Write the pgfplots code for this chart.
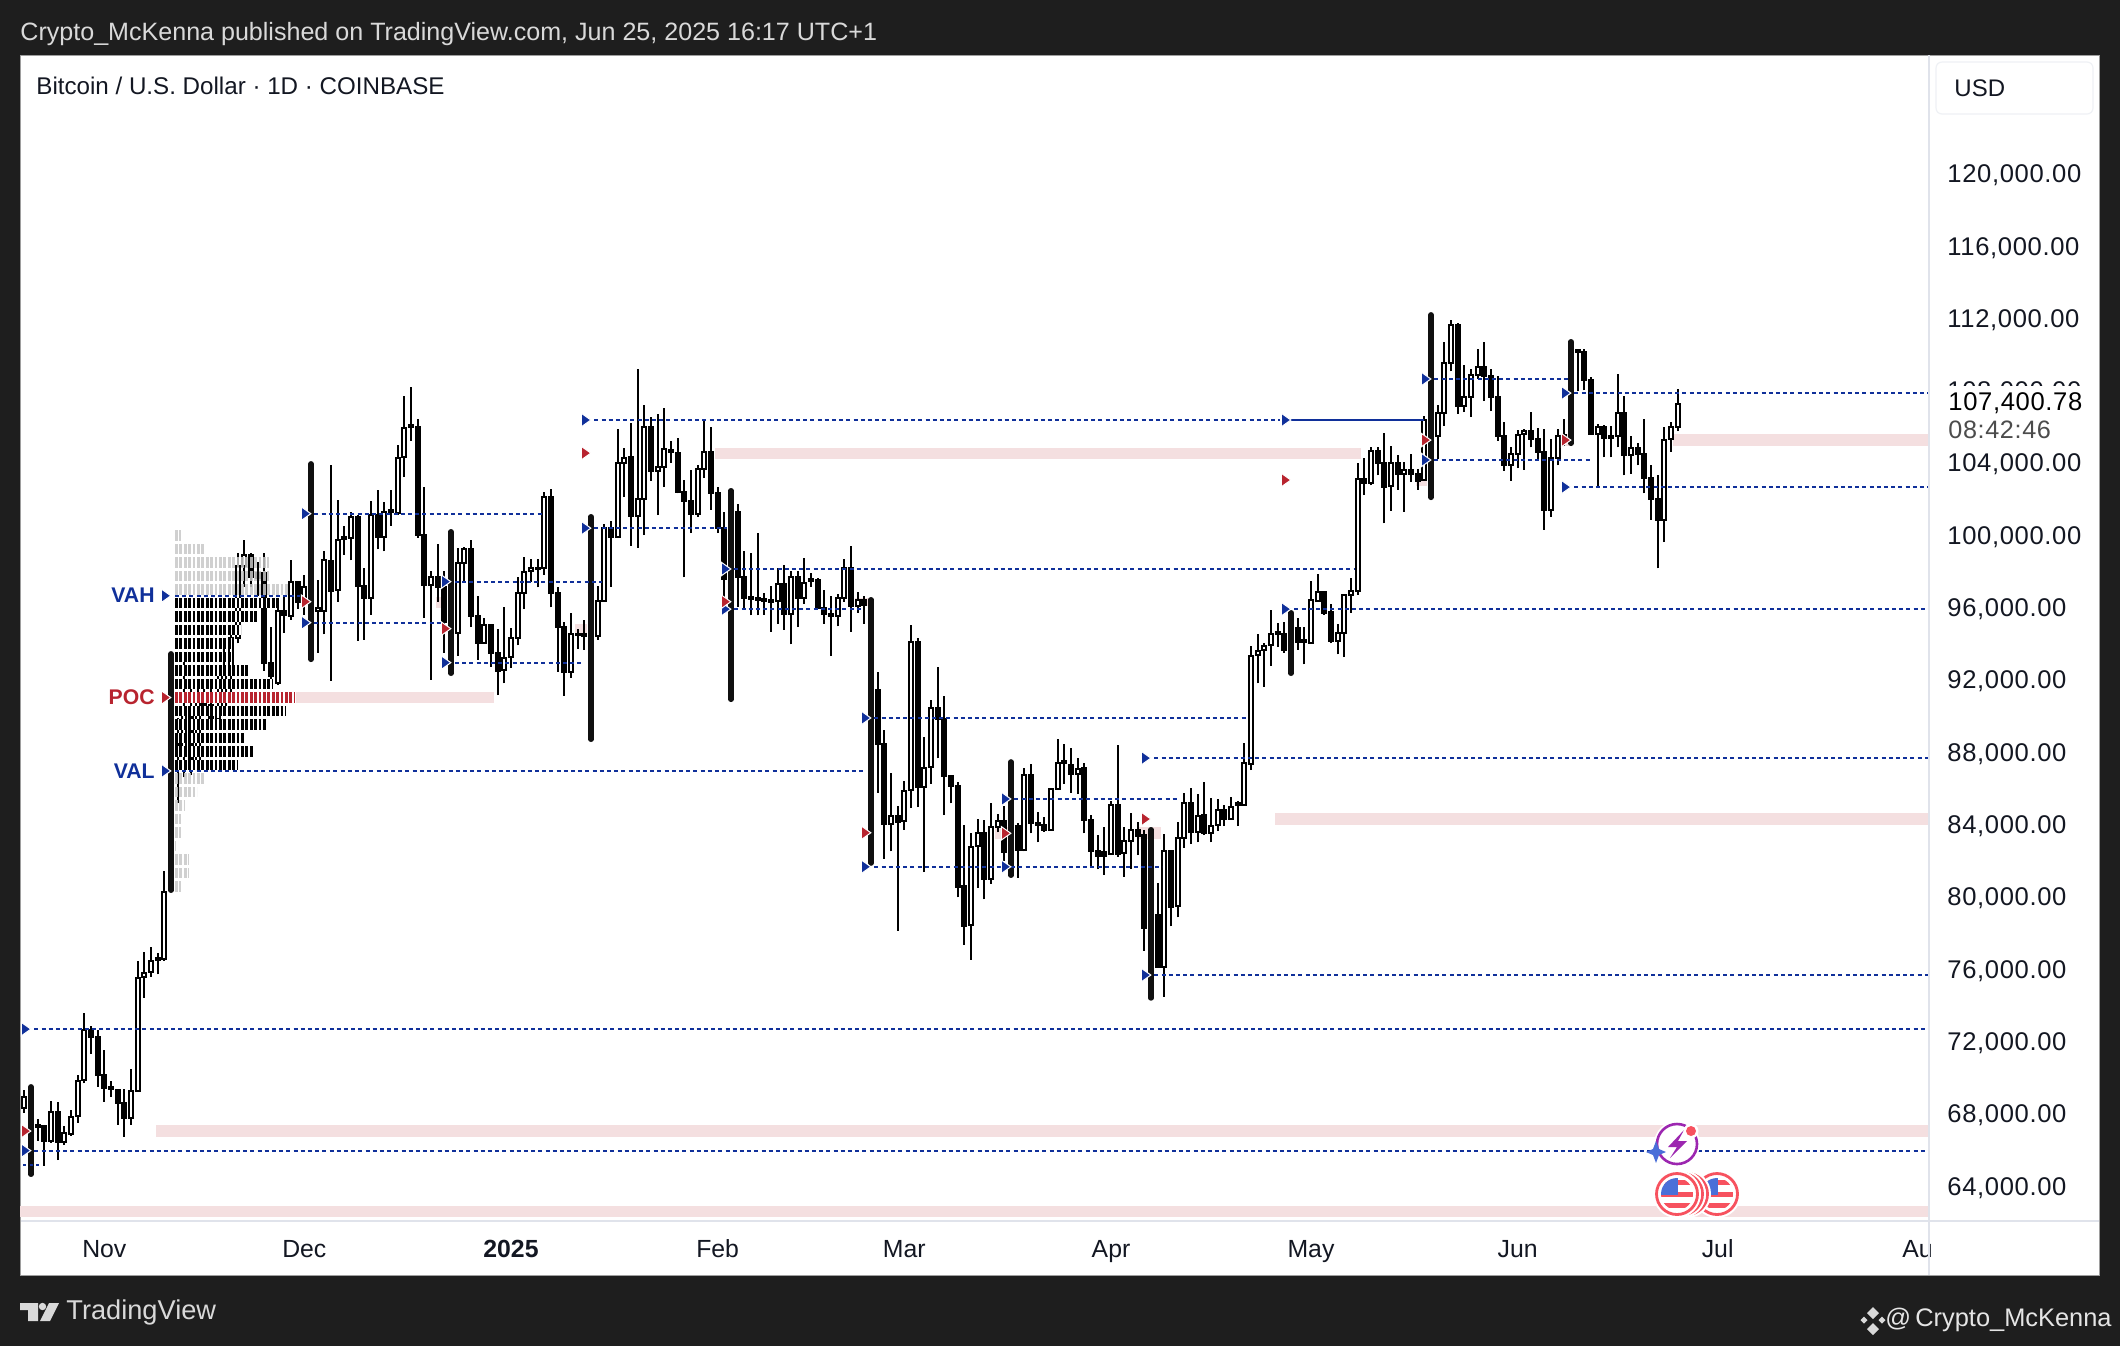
\documentclass[border=0pt]{standalone}
\usepackage{fontspec}
\setmainfont{Liberation Sans}
\usepackage{pgfplots}
\pgfplotsset{compat=1.18}
\definecolor{frameD}{HTML}{1E1E1E}
\definecolor{ink}{HTML}{131722}
\definecolor{lvl}{HTML}{10309A}
\definecolor{trR}{HTML}{B8242F}
\definecolor{band}{HTML}{F4DFE0}
\definecolor{sep}{HTML}{E0E3EB}
\definecolor{thickc}{HTML}{101010}
\definecolor{greyrow}{HTML}{C8C8C8}
\definecolor{coin}{HTML}{F7525F}
\definecolor{flagb}{HTML}{4A6FD8}
\definecolor{ringc}{HTML}{9C27B0}
\pgfdeclareplotmark{rtri}{%
  \pgfpathmoveto{\pgfpoint{-2.2pt}{3.4pt}}%
  \pgfpathlineto{\pgfpoint{2.6pt}{0pt}}%
  \pgfpathlineto{\pgfpoint{-2.2pt}{-3.4pt}}%
  \pgfpathclose\pgfusepathqfillstroke}
\newcommand\U[5]{\pgfmathsetmacro\xa{#1-0.3}\pgfmathsetmacro\xb{#1+0.3}%
  \addplot[black,line width=1pt,forget plot] coordinates {(#1,#4)(#1,#3)};%
  \addplot[draw=black,fill=white,line width=1pt,line join=miter,forget plot] coordinates {(\xa,#2)(\xb,#2)(\xb,#5)(\xa,#5)} -- cycle;}
\newcommand\D[5]{\pgfmathsetmacro\xa{#1-0.3}\pgfmathsetmacro\xb{#1+0.3}%
  \addplot[black,line width=1pt,forget plot] coordinates {(#1,#4)(#1,#3)};%
  \addplot[draw=black,fill=black,line width=1pt,line join=miter,forget plot] coordinates {(\xa,#2)(\xb,#2)(\xb,#5)(\xa,#5)} -- cycle;}
\newcommand\T[3]{\addplot[thickc,line width=2.7pt,line cap=round,forget plot] coordinates {(#1,#2)(#1,#3)};}
\newcommand\band[4]{\addplot[draw=none,fill=band,forget plot] coordinates {(#1,#3)(#2,#3)(#2,#4)(#1,#4)} -- cycle;}
\newcommand\dl[3]{\addplot[lvl,line width=0.9pt,dash pattern=on 2pt off 1.6pt,forget plot] coordinates {(#1,#3)(#2,#3)};}
\newcommand\rowK[3][black]{\addplot[white,line width=5.25pt,forget plot] coordinates {(-50.4,#2)(#3,#2)};%
  \addplot[#1,line width=5.25pt,dash pattern=on 1.4pt off 0.8pt,forget plot] coordinates {(-50.4,#2)(#3,#2)};}
\newcommand\rowG[2]{\addplot[greyrow,opacity=0.85,line width=5.25pt,dash pattern=on 1.4pt off 0.8pt,forget plot] coordinates {(-50.4,#1)(#2,#1)};}
\newcommand\coin[2]{\fill[white] (#1,#2) circle (24);\draw[coin,fill=white,line width=1.4pt] (#1,#2) circle (20.5);}
\newcommand\flag[2]{\begin{scope}\clip (#1,#2) circle (16);
  \fill[coin] (#1-17,#2-14) rectangle (#1+17,#2-9);
  \fill[coin] (#1-17,#2-2) rectangle (#1+17,#2+3);
  \fill[coin] (#1-17,#2+9) rectangle (#1+17,#2+14);
  \fill[flagb] (#1-17,#2-17) rectangle (#1+1,#2+1);\end{scope}}
\begin{document}
\begin{tikzpicture}[x=0.5pt,y=-0.5pt]
\fill[frameD] (0,0) rectangle (2120,1346);
\fill[white,draw=black!38,line width=0.5pt] (20,55) rectangle (2099,1275);
\begin{axis}[at={(10pt,-610.5pt)},anchor=south west,scale only axis,width=954.5pt,height=583pt,
  xmin=-73.65,xmax=212.7,ymin=62055,ymax=126550,
  axis line style={draw=none},major tick length=0pt,
  ytick={64000,68000,72000,76000,80000,84000,88000,92000,96000,100000,104000,108000,112000,116000,120000},
  ytick pos=right,scaled y ticks=false,
  /pgf/number format/.cd,fixed,fixed zerofill,precision=2,1000 sep={,},assume math mode=true,/pgfplots/.cd,
  yticklabel style={anchor=west,xshift=9pt,yshift=-1pt,inner sep=0pt,text=ink,font=\fontsize{12.8}{14}\selectfont\addfontfeature{LetterSpace=2.5}},
  xtick={-61,-31,0,31,59,90,120,151,181,212},
  xticklabels={Nov,Dec,\textbf{2025},Feb,Mar,Apr,May,Jun,Jul,Aug},
  xtick pos=bottom,
  xticklabel style={anchor=base,yshift=-18.2pt,inner sep=0pt,text=ink,font=\fontsize{12.4}{14}\selectfont},
]
% zones
\band{-53.25}{212.7}{67370}{66700}
\band{-73.65}{212.7}{62890}{62280}
\band{114.6}{212.7}{84620}{83960}
\band{-32.25}{-2.55}{91310}{90700}
\band{30.6}{127.5}{104810}{104200}
\band{174.3}{212.7}{105580}{104920}
\band{94.05}{97.5}{83850}{83180}
\band{72.6}{74.85}{83850}{83180}
\band{51.6}{53.85}{96500}{96050}
\band{9.6}{11.4}{95070}{94520}
\band{-11.25}{-9.6}{96570}{95960}
\band{135.75}{137.4}{102980}{102700}
\band{157.3}{159.1}{105580}{104920}
% candles: day from 1 Jan 2025, open, high, low, close
\U{-73}{68300}{69300}{68050}{68900}
\D{-71}{67350}{67700}{66500}{67250}
\D{-70}{67290}{67300}{65100}{66480}
\U{-69}{66460}{68680}{66390}{68070}
\D{-68}{68070}{68620}{65430}{66440}
\U{-67}{66440}{67310}{66260}{66910}
\U{-66}{66890}{68200}{66760}{67830}
\U{-65}{67870}{70130}{67500}{69820}
\U{-64}{69860}{73540}{69670}{72600}
\D{-63}{72600}{72840}{71300}{72220}
\D{-62}{72220}{72620}{69490}{70110}
\D{-61}{70110}{71520}{68660}{69400}
\D{-60}{69480}{69780}{68930}{69380}
\D{-59}{69280}{69300}{67370}{68600}
\D{-58}{68600}{69340}{66720}{67740}
\U{-57}{67740}{70450}{67370}{69270}
\U{-56}{69270}{76420}{69210}{75520}
\U{-55}{75530}{76920}{74410}{75790}
\U{-54}{75830}{77190}{75570}{76460}
\D{-53}{76580}{76860}{75700}{76480}
\U{-52}{76570}{81400}{76440}{80280}
\D{-50}{88650}{89900}{85200}{87950}
\U{-49}{87950}{93300}{86600}{90400}
\D{-48}{90400}{91800}{86700}{87300}
\U{-47}{87300}{91900}{87100}{91100}
\D{-46}{91100}{91800}{90100}{90600}
\D{-45}{90600}{91700}{89300}{89800}
\U{-44}{89800}{92600}{89400}{90500}
\U{-43}{90500}{94000}{91500}{92300}
\U{-42}{92300}{94900}{91000}{94300}
\U{-41}{94300}{99000}{94000}{98300}
\U{-40}{98300}{99700}{97100}{98900}
\D{-39}{98900}{99000}{97100}{97650}
\D{-38}{97900}{98500}{96600}{97600}
\D{-37}{97900}{99000}{92500}{92900}
\D{-36}{92900}{94900}{91500}{92200}
\U{-35}{91800}{96500}{91700}{95800}
\D{-34}{95800}{96600}{94600}{95600}
\U{-33}{95500}{98600}{95300}{97400}
\D{-32}{97400}{97400}{95900}{96300}
\U{-31}{96400}{97800}{95600}{97100}
\U{-29}{95800}{97500}{93500}{95950}
\U{-28}{95800}{99100}{94500}{98600}
\D{-27}{98570}{103850}{91950}{96900}
\U{-26}{96950}{101950}{96300}{99750}
\U{-25}{99800}{100500}{98900}{99900}
\U{-24}{99850}{101300}{98600}{101000}
\D{-23}{101000}{101100}{94150}{97200}
\D{-22}{97200}{98200}{94200}{96500}
\U{-21}{96500}{101900}{95600}{101100}
\D{-20}{101100}{102500}{99200}{99900}
\U{-19}{99900}{101800}{99100}{101300}
\U{-18}{101300}{102500}{100500}{101400}
\U{-17}{101200}{105000}{101100}{104270}
\U{-16}{104290}{107700}{103200}{105930}
\U{-15}{105980}{108200}{105200}{106080}
\D{-14}{106000}{106400}{99850}{100000}
\D{-13}{100000}{102650}{95400}{97250}
\U{-12}{97250}{98000}{92000}{97650}
\D{-11}{97650}{99500}{96300}{97100}
\D{-10}{97100}{98000}{93500}{95200}
\U{-8}{94600}{99300}{93300}{98450}
\U{-7}{98450}{99350}{97400}{99200}
\D{-6}{99200}{99750}{94900}{95500}
\D{-5}{95500}{96600}{93100}{94000}
\U{-4}{94000}{95400}{94000}{95000}
\D{-3}{95000}{95100}{92700}{93450}
\D{-2}{93450}{94800}{91150}{92500}
\U{-1}{92530}{96000}{91800}{93200}
\U{0}{93260}{94830}{92660}{94280}
\U{1}{94280}{97650}{93900}{96770}
\U{2}{96770}{98800}{95900}{97970}
\U{3}{98000}{98650}{97400}{98150}
\U{4}{98100}{98700}{97100}{98200}
\U{5}{98200}{102400}{97800}{102100}
\D{6}{102100}{102550}{96000}{96800}
\D{7}{96800}{97150}{92450}{94900}
\D{8}{94900}{95200}{91100}{92400}
\U{9}{92400}{95700}{92100}{94550}
\D{10}{94550}{94800}{93700}{94450}
\D{11}{94500}{95300}{93650}{94400}
\U{13}{94400}{97200}{94200}{96350}
\U{14}{96350}{100600}{96300}{100370}
\D{15}{100370}{100750}{97150}{99870}
\U{16}{99870}{105850}{99870}{103960}
\U{17}{103960}{104800}{102100}{104270}
\D{18}{104300}{106200}{99400}{101060}
\U{19}{101060}{109200}{99300}{102000}
\U{20}{102000}{107200}{100000}{106000}
\D{21}{106000}{106500}{103000}{103550}
\U{22}{103550}{106700}{101100}{103770}
\U{23}{103770}{107050}{102650}{104730}
\D{24}{104700}{105200}{104000}{104600}
\D{25}{104560}{105350}{102300}{102400}
\D{26}{102400}{103050}{97650}{101900}
\D{27}{101900}{103600}{100100}{101150}
\U{28}{101150}{103900}{101000}{103650}
\U{29}{103650}{106350}{103150}{104600}
\D{30}{104600}{105950}{101400}{102300}
\D{31}{102300}{102650}{100100}{100400}
\D{32}{100400}{101300}{96100}{97550}
\D{34}{101300}{101700}{96000}{97650}
\D{35}{97650}{99100}{95900}{96500}
\D{36}{96550}{99000}{95550}{96450}
\D{37}{96500}{100100}{95550}{96400}
\D{38}{96450}{96800}{95600}{96350}
\D{39}{96400}{97200}{94650}{96300}
\U{40}{96350}{98150}{95100}{97300}
\D{41}{97300}{98350}{94750}{95650}
\U{42}{95650}{98000}{93950}{97700}
\D{43}{97700}{98000}{94900}{96500}
\U{44}{96500}{98750}{96200}{97350}
\D{45}{97550}{97900}{97150}{97450}
\D{46}{97500}{97600}{95900}{95950}
\D{47}{95950}{96950}{95100}{95650}
\D{48}{95650}{96600}{93300}{95500}
\U{49}{95500}{96750}{94950}{96500}
\U{50}{96500}{98650}{96300}{98200}
\D{51}{98200}{99400}{94650}{96050}
\U{52}{96050}{96850}{95700}{96400}
\D{53}{96400}{96600}{95100}{96150}
\D{55}{91400}{92400}{85750}{88450}
\D{56}{88450}{89200}{82100}{84000}
\U{57}{84000}{86850}{82500}{84450}
\D{58}{84450}{85000}{78100}{84150}
\U{59}{84200}{86400}{83700}{85850}
\U{60}{85900}{95000}{84900}{94100}
\D{61}{94100}{94300}{84950}{86050}
\U{62}{86050}{88850}{81350}{87100}
\U{63}{87150}{90850}{86250}{90450}
\D{64}{90450}{92700}{87650}{89800}
\D{65}{89800}{91100}{84500}{86650}
\D{66}{86650}{86750}{85150}{86100}
\D{67}{86100}{86350}{79950}{80550}
\D{68}{80600}{83950}{77350}{78400}
\U{69}{78450}{83500}{76500}{82750}
\U{70}{82800}{84300}{80500}{83500}
\D{71}{83500}{84250}{79850}{80950}
\U{72}{80950}{85200}{80700}{83850}
\U{73}{83850}{84550}{83550}{84200}
\D{74}{84200}{85000}{81950}{82450}
\D{76}{83900}{84050}{81050}{82550}
\U{77}{82600}{87100}{82500}{86750}
\D{78}{86750}{87350}{83500}{84050}
\D{79}{84050}{84700}{83000}{83950}
\D{80}{83950}{84400}{83600}{83700}
\U{81}{83700}{85950}{83700}{85950}
\U{82}{85950}{88700}{85900}{87400}
\D{83}{87500}{88450}{86250}{87400}
\D{84}{87300}{88200}{85750}{86800}
\U{85}{86800}{87650}{85700}{87050}
\D{86}{87100}{87400}{83500}{84250}
\D{87}{84250}{84500}{81600}{82500}
\D{88}{82500}{83400}{81500}{82250}
\D{89}{82450}{83850}{81200}{82250}
\U{90}{82350}{85300}{82300}{85050}
\D{91}{85050}{88400}{82200}{82350}
\U{92}{82400}{83850}{81100}{83050}
\U{93}{83050}{84600}{81550}{83700}
\D{94}{83700}{84100}{82300}{83350}
\D{95}{83400}{83700}{77000}{78250}
\D{97}{79000}{80750}{76100}{76100}
\U{98}{76100}{83450}{74450}{82500}
\D{99}{82500}{82600}{78350}{79450}
\U{100}{79500}{84150}{78850}{83250}
\U{101}{83250}{85750}{82700}{85150}
\D{102}{85150}{86000}{82900}{83600}
\U{103}{83600}{85700}{83000}{84450}
\D{104}{84500}{86350}{83400}{83500}
\U{105}{83500}{85450}{83000}{83900}
\U{106}{83950}{85400}{83650}{84800}
\D{107}{84800}{85050}{83900}{84300}
\U{108}{84300}{85500}{84250}{84950}
\U{109}{85050}{85300}{83900}{85150}
\U{110}{85050}{88500}{85050}{87400}
\U{111}{87350}{93850}{87000}{93300}
\U{112}{93350}{94550}{91800}{93600}
\U{113}{93650}{94000}{91600}{93850}
\U{114}{93900}{95850}{92750}{94550}
\U{115}{94550}{95150}{93800}{94650}
\D{116}{94550}{95200}{93500}{93650}
\D{118}{94850}{95400}{93650}{94100}
\D{119}{94200}{94900}{92850}{94100}
\U{120}{94050}{97450}{94000}{96400}
\U{121}{96370}{97850}{96300}{96830}
\D{122}{96830}{96900}{95600}{95700}
\D{123}{95720}{96200}{94000}{94150}
\U{124}{94150}{95100}{93400}{94600}
\U{125}{94600}{96750}{93250}{96700}
\U{126}{96700}{97600}{95700}{96900}
\U{127}{96900}{104000}{96700}{103100}
\D{128}{103100}{104250}{102200}{102850}
\U{129}{102850}{104850}{102750}{104650}
\D{130}{104650}{104850}{103300}{104000}
\D{131}{104000}{105650}{100650}{102650}
\U{132}{102700}{104900}{101350}{104000}
\D{133}{104000}{104400}{102500}{103400}
\U{134}{103400}{104050}{101300}{103600}
\D{135}{103600}{104500}{102950}{103350}
\D{136}{103350}{103650}{102500}{103000}
\U{137}{103050}{106600}{103000}{106350}
\U{139}{105470}{107200}{104200}{106730}
\U{140}{106730}{110650}{106030}{109530}
\U{141}{109530}{111900}{109050}{111600}
\D{142}{111600}{111750}{106700}{107150}
\U{143}{107150}{109400}{106800}{107650}
\U{144}{107650}{109200}{106550}{108850}
\U{145}{108850}{110300}{108650}{109300}
\D{146}{109300}{110700}{107400}{108800}
\D{147}{108800}{109200}{106850}{107650}
\D{148}{107650}{108800}{105200}{105470}
\D{149}{105470}{106250}{103550}{103900}
\U{150}{103900}{104850}{103000}{104500}
\U{151}{104500}{105800}{103700}{105550}
\U{152}{105580}{105850}{103600}{105780}
\D{153}{105780}{106800}{104850}{105300}
\D{154}{105300}{105900}{104100}{104600}
\D{155}{104600}{105850}{100300}{101400}
\U{156}{101400}{105300}{101000}{104250}
\U{157}{104250}{105850}{103850}{105450}
\U{158}{105450}{106400}{104900}{105550}
\U{160}{110100}{110300}{107950}{110250}
\D{161}{110150}{110300}{108000}{108550}
\D{162}{108550}{108750}{105600}{105600}
\U{163}{105600}{106150}{102650}{105950}
\D{164}{105950}{106100}{104300}{105350}
\D{165}{105450}{106050}{104300}{105350}
\U{166}{105450}{108900}{104850}{106730}
\D{167}{106730}{107700}{103300}{104450}
\U{168}{104450}{105500}{103400}{104800}
\D{169}{104800}{105100}{103850}{104500}
\D{170}{104500}{106400}{102300}{103150}
\D{171}{103150}{103850}{100850}{102000}
\D{172}{102000}{103300}{98150}{100850}
\U{173}{100850}{106000}{99600}{105250}
\U{174}{105300}{106250}{104600}{106000}
\U{175}{106000}{108050}{105750}{107270}
% wide sessions
\T{-72}{64640}{69480}
\T{-51}{80350}{93430}
\T{-30}{93120}{103940}
\T{-9}{92350}{100180}
\T{12}{88700}{101010}
\T{33}{90910}{102450}
\T{54}{81850}{96420}
\T{75}{81180}{87450}
\T{96}{74390}{83700}
\T{117}{92350}{95700}
\T{138}{102080}{112180}
\T{159}{105070}{110690}
% volume profile
\rowG{99970}{-49.5}
\rowG{99230}{-45.9}
\rowG{98480}{-36.3}
\rowG{97730}{-36.3}
\rowG{96990}{-33.45}
\rowK{96240}{-34.95}
\rowK{95490}{-38.1}
\rowK{94750}{-40.5}
\rowK{93990}{-41.55}
\rowK{93250}{-41.7}
\rowK{92500}{-39.3}
\rowK{91760}{-35.7}
\rowK[trR]{91010}{-32.55}
\rowK{90260}{-33.75}
\rowK{89520}{-36.75}
\rowK{88770}{-39.9}
\rowK{88020}{-38.7}
\rowK{87280}{-41.1}
\rowG{86530}{-45.9}
\rowG{85780}{-47.1}
\rowG{85030}{-49.05}
\rowG{84290}{-49.5}
\rowG{83540}{-49.5}
\rowG{82790}{-50.25}
\rowG{82050}{-48.3}
\rowG{81300}{-48.3}
\rowG{80550}{-49.5}
% levels
\dl{-71.5}{212.7}{72670}
\dl{-71.5}{212.7}{65950}
\addplot[lvl,line width=0.9pt,dash pattern=on 1.5pt off 1.8pt,forget plot] coordinates {(-73.2,65150)(-70.5,65150)};
\dl{-50.4}{-31.7}{96640}
\dl{-50.4}{53}{86950}
\dl{-29.5}{4.6}{101180}
\dl{-29.5}{-10.5}{95150}
\dl{-8.4}{13.6}{97420}
\dl{-8.4}{11}{92940}
\dl{12.5}{115.3}{106360}
\addplot[lvl,line width=1pt,forget plot] coordinates {(116.8,106360)(137,106360)};
\dl{12.5}{32.4}{100380}
\dl{33.5}{126.4}{98120}
\dl{33.5}{52.8}{95900}
\dl{117.5}{212.7}{95900}
\dl{54.5}{110.4}{89880}
\dl{54.5}{97.7}{81650}
\dl{75.5}{100}{85400}
\dl{96.5}{212.7}{87660}
\dl{96.5}{212.7}{75660}
\dl{138.5}{158.8}{108630}
\dl{138.5}{162.2}{104150}
\dl{159.5}{212.7}{107850}
\dl{159.5}{212.7}{102650}
% markers
\addplot[only marks,mark=rtri,mark options={fill=lvl,draw=white,line width=0.5pt},forget plot] coordinates {
(-72.8,72670)(-72.8,65950)(-51.8,96640)(-51.8,86950)(-30.8,101180)(-30.8,95150)
(-9.8,97420)(-9.8,92940)(11.2,106360)(11.2,100380)(32.2,98120)(32.2,95900)
(53.2,89880)(53.2,81650)(74.2,85400)(74.2,81650)(95.2,87660)(95.2,75660)
(116.2,106360)(116.2,95900)(137.2,108630)(137.2,104150)(158.2,107850)(158.2,102650)};
\addplot[only marks,mark=rtri,mark options={fill=trR,draw=white,line width=0.5pt},forget plot] coordinates {
(-72.8,67030)(-51.8,91010)(-30.8,96310)(-9.8,94820)(11.2,104530)(32.2,96310)
(53.2,83530)(74.2,83500)(95.2,84290)(116.2,103040)(137.2,105250)(158.2,105250)};
\end{axis}
% right pane
\fill[white] (1931,1222) rectangle (2098,1274);
\fill[white] (1932,386) rectangle (2096,442);
\draw[sep,line width=1pt] (1929,55) -- (1929,1275);
\draw[sep,line width=1pt] (21,1221) -- (2099,1221);
\node[anchor=west,inner sep=0pt,text=black,font=\fontsize{12.8}{14}\selectfont\addfontfeature{LetterSpace=2.5}] at (1948,403) {107,400.78};
\node[anchor=west,inner sep=0pt,text=black!70,font=\fontsize{12.6}{14}\selectfont\addfontfeature{LetterSpace=2.5}] at (1948,430) {08:42:46};
\draw[sep!50,line width=0.6pt,rounded corners=3pt] (1936,62) rectangle (2093,114);
\node[anchor=west,inner sep=0pt,text=ink,font=\fontsize{12}{14}\selectfont] at (1954,88) {USD};
% profile labels
\node[anchor=east,inner sep=0pt,text=lvl,font=\bfseries\fontsize{10.6}{12}\selectfont] at (155,595) {VAH};
\node[anchor=east,inner sep=0pt,text=trR,font=\bfseries\fontsize{10.6}{12}\selectfont] at (155,697) {POC};
\node[anchor=east,inner sep=0pt,text=lvl,font=\bfseries\fontsize{10.6}{12}\selectfont] at (155,771) {VAL};
% header and footer
\node[anchor=west,inner sep=0pt,text=black!15,font=\fontsize{12.54}{14}\selectfont] at (20,34) {Crypto\_McKenna published on TradingView.com, Jun 25, 2025 16:17 UTC+1};
\node[anchor=west,inner sep=0pt,text=ink,font=\fontsize{12.08}{14}\selectfont] at (36,86) {Bitcoin / U.S. Dollar · 1D · COINBASE};
\fill[black!15] (20,1303) -- (38,1303) -- (38,1321) -- (28,1321) -- (28,1310) -- (20,1310) -- cycle;
\fill[black!15] (42.5,1306.5) circle (3.7);
\fill[black!15] (49,1303) -- (59,1303) -- (50,1321) -- (40,1321) -- cycle;
\node[anchor=west,inner sep=0pt,text=black!15,font=\fontsize{13.6}{15}\selectfont] at (66,1312) {TradingView};
\begin{scope}[black!15]
\fill (1873,1307) -- (1879,1313) -- (1873,1319) -- (1867,1313) -- cycle;
\fill (1873,1323) -- (1879,1329) -- (1873,1335) -- (1867,1329) -- cycle;
\fill (1864,1316.5) -- (1867.5,1320) -- (1864,1323.5) -- (1860.5,1320) -- cycle;
\fill (1882,1316.5) -- (1885.5,1320) -- (1882,1323.5) -- (1878.5,1320) -- cycle;
\end{scope}
\node[anchor=east,inner sep=0pt,text=white!90!black,font=\fontsize{12.7}{15}\selectfont] at (2112,1320) {@\,Crypto\_McKenna};
% event badges
\fill[white] (1677,1144) circle (23);
\draw[ringc,line width=1.3pt] (1677,1144) circle (20);
\fill[ringc] (1684,1130) -- (1668,1147) -- (1677,1147) -- (1670,1158) -- (1687,1141) -- (1678,1141) -- cycle;
\fill[white] (1691,1131) circle (7.5);\fill[coin] (1691,1131) circle (5);
\fill[flagb] (1656,1141) -- (1659,1149) -- (1666,1152) -- (1659,1155) -- (1656,1163) -- (1653,1155) -- (1646,1152) -- (1653,1149) -- cycle;
\coin{1717}{1194}\flag{1717}{1194}
\coin{1687}{1194}\coin{1682}{1194}\coin{1677}{1194}\flag{1677}{1194}
\end{tikzpicture}
\end{document}
